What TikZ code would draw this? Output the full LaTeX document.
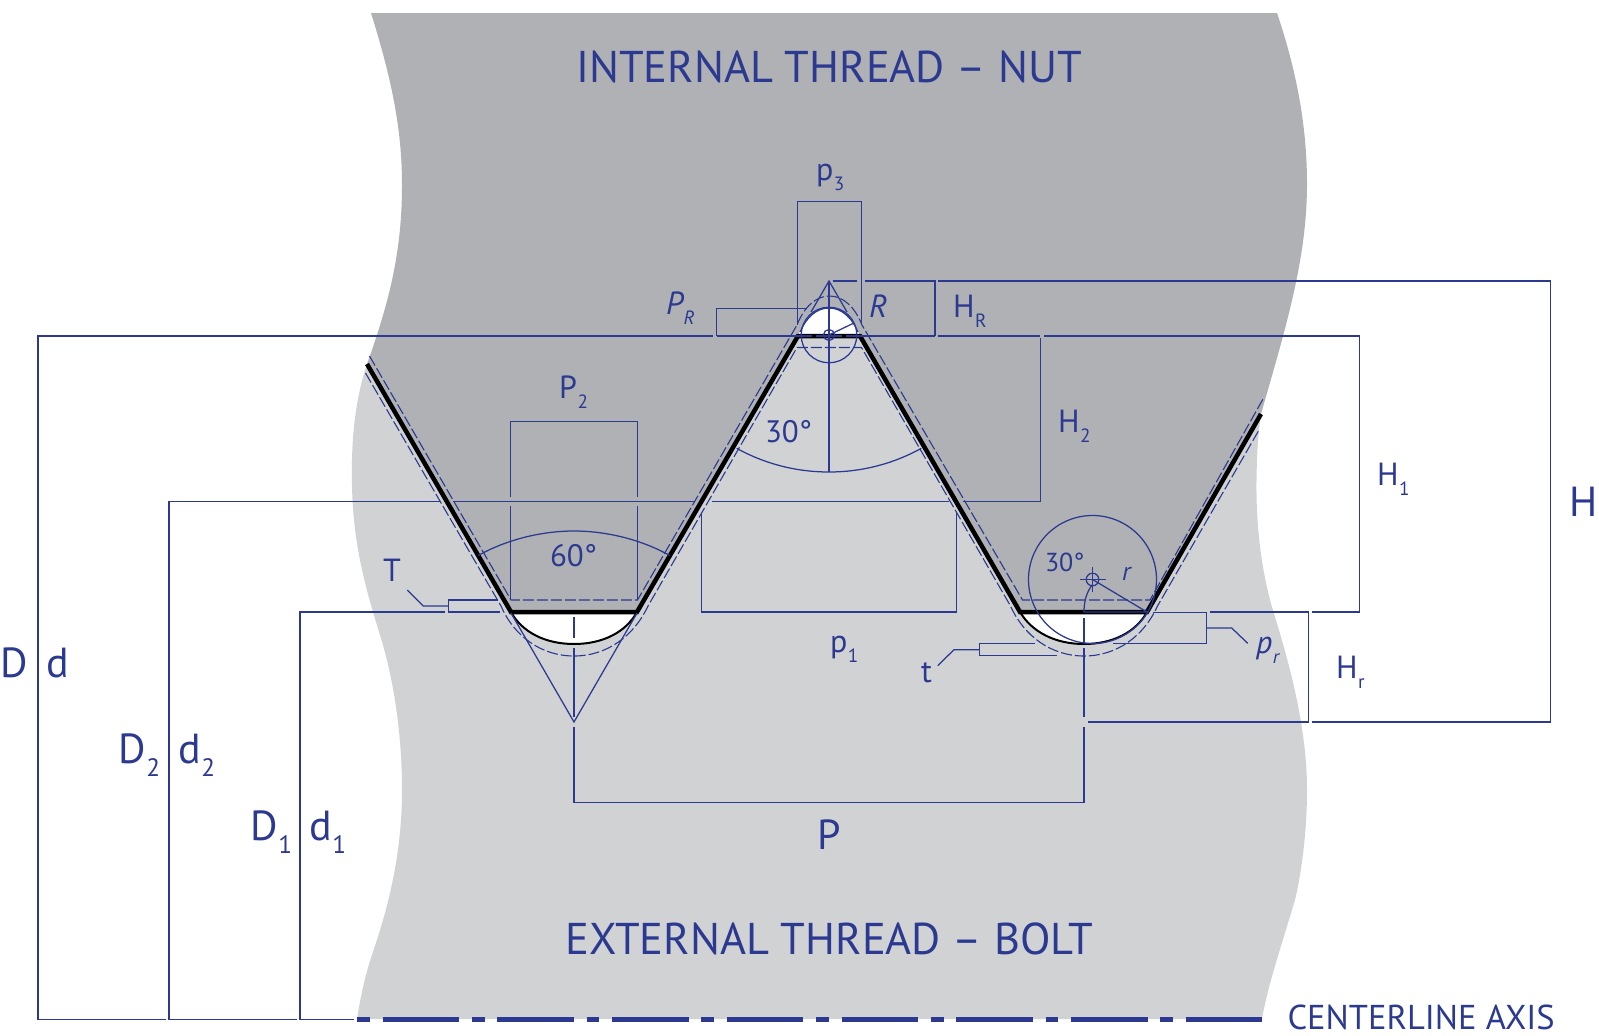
\documentclass[tikz,border=0pt]{standalone}
\usepackage{graphicx}
\usepackage{fontspec}
\setmainfont{PT Sans}
\usepackage{tikz}

\definecolor{dimblue}{RGB}{43,57,144}
\definecolor{nutgray}{RGB}{176,177,181}
\definecolor{boltgray}{RGB}{209,210,212}

\newcommand{\lowsub}[1]{\kern.02em\raisebox{-.33em}{\scalebox{.6}{#1}}}

\tikzset{
	dimline/.style={draw=dimblue, line width=1.25pt},
	dashline/.style={draw=dimblue, line width=1.1pt, dash pattern=on 11pt off 3pt},
	label/.style={text=dimblue, anchor=base west, inner sep=0pt, outer sep=0pt},
	titlelabel/.style={label, font=\fontsize{44.5}{46}\selectfont},
	largelabel/.style={label, font=\fontsize{42}{42}\selectfont},
	midlabel/.style={label, font=\fontsize{32}{32}\selectfont},
	anglelabel/.style={label, font=\fontsize{31}{31}\selectfont},
}

\begin{document}
\begin{tikzpicture}[x=1pt, y=-1pt]
	\useasboundingbox (0,0) rectangle (1599,1036);

	% Bolt body
	\fill[boltgray] (367,364) .. controls (355,400) and (351,440) .. (352,485)
		.. controls (353,545) and (366,590) .. (380,635)
		.. controls (394,680) and (402,735) .. (402,790)
		.. controls (402,870) and (380,930) .. (372,955)
		.. controls (365,975) and (360,1000) .. (357,1019)
		-- (1262,1019)
		.. controls (1268,985) and (1280,950) .. (1295,900)
		.. controls (1302,870) and (1307,830) .. (1307,790)
		.. controls (1307,720) and (1285,650) .. (1272,607)
		.. controls (1260,565) and (1256,520) .. (1256.5,480)
		.. controls (1257,450) and (1258,435) .. (1261,414)
		-- (1147,612) .. controls (1136,632) and (1113,644) .. (1084,644)
		.. controls (1055,644) and (1032,632) .. (1020,612)
		-- (860,336) -- (798,336) -- (637,612)
		.. controls (626,632) and (603,644) .. (574,644)
		.. controls (545,644) and (522,632) .. (511,612) -- cycle;

	% Nut body
	\fill[nutgray] (371,13) .. controls (392,80) and (402,130) .. (402,185)
		.. controls (402,250) and (390,300) .. (367,364)
		-- (511,612) -- (637,612) -- (798,336)
		.. controls (804,318) and (816,308) .. (829,308)
		.. controls (842,308) and (854,318) .. (860,336)
		-- (1020,612) -- (1147,612) -- (1261,414)
		.. controls (1285,330) and (1307,260) .. (1307,184)
		.. controls (1307,130) and (1298,75) .. (1277,13) -- cycle;

	% Thread profile
	\draw[black, line width=4.5pt, miter limit=4] (367,364) -- (511,612) -- (637,612) -- (798,336) -- (860,336) -- (1020,612) -- (1147,612) -- (1261,414);
	\draw[black, line width=2pt] (511,612) .. controls (522,632) and (545,644) .. (574,644) .. controls (603,644) and (626,632) .. (637,612);
	\draw[black, line width=2pt] (1020,612) .. controls (1032,632) and (1055,644) .. (1084,644) .. controls (1113,644) and (1136,632) .. (1147,612);
	\draw[dimline] (800,332) .. controls (806,318) and (816,308) .. (829,308) .. controls (842,308) and (852,318) .. (858,332);

	% Dashed limits of nut and bolt
	\draw[dashline] (369.5,356) -- (511,600) -- (637.5,600) -- (797,325) .. controls (804,307) and (816,296) .. (829.5,296) .. controls (843,296) and (855,307) .. (862,325) -- (1022.5,600) -- (1150,600) -- (1263,399);
	\draw[dashline] (365.5,373) -- (501,606) .. controls (514,636) and (541,656) .. (574,656) .. controls (607,656) and (634,636) .. (648,606) -- (797,347.5) -- (861.5,347.5) -- (1010.5,606) .. controls (1024,636) and (1051,656) .. (1084,656) .. controls (1117,656) and (1144,636) .. (1157.5,606) -- (1259,430);

	% Sharp V and centerlines
	\draw[dimline] (511,613) -- (574,722) -- (637,613);
	\draw[dimline] (574,617) -- (574,638);
	\draw[dimline] (574,648) -- (574,717);
	\draw[dimline] (574,727) -- (574,802.5) -- (1084,802.5) -- (1084,727);
	\draw[dimline] (1084,618) -- (1084,643);
	\draw[dimline] (1084,648) -- (1084,717);
	\draw[dimline] (811,312) -- (829,281) -- (847,312);
	\draw[dimline] (829,281) -- (829,472);

	% Angle arcs
	\draw[dimline] (736.7,448.3) .. controls (765,464) and (796.6,472) .. (829,472) .. controls (861.4,472) and (893,464) .. (921.3,448.3);
	\draw[dimline] (478.3,555.5) .. controls (506.5,539.6) and (541.6,531) .. (574,531) .. controls (606.4,531) and (641.5,539.6) .. (669.7,555.5);

	% Radius at the crest
	\draw[dimline] (829,335) circle [radius=27.8pt];
	\draw[dimline] (829,335) circle [radius=5.5pt];
	\draw[dimline] (816,336) -- (842,336);
	\draw[dimline] (829,335) -- (853.3,323.3);

	% Radius at the root
	\draw[dimline] (1092.5,579.5) circle [radius=64pt];
	\draw[dimline] (1092.5,579.5) circle [radius=6.3pt];
	\draw[dimline] (1080,579.5) -- (1105.7,579.5);
	\draw[dimline] (1092.5,567.3) -- (1092.5,592.3);
	\draw[dimline] (1092.5,579.5) -- (1147,612) -- (1084,612) .. controls (1084,600) and (1087,592) .. (1092,585);

	% D and d
	\draw[dimline] (165.5,1019.3) -- (38,1019.3) -- (38,336) -- (712.7,336);
	\draw[dimline] (716.7,336) -- (812,336);
	\draw[dimline] (846,336) -- (935,336);
	\draw[dimline] (938.3,336) -- (1040,336);
	\draw[dimline] (1044,336) -- (1359.3,336) -- (1359.3,612) -- (1312.3,612);

	% D2 and d2
	\draw[dimline] (296.5,1019.3) -- (169,1019.3) -- (169,501.7) -- (440,501.7);
	\draw[dimline] (453,501.7) -- (695,501.7);
	\draw[dimline] (712,501.7) -- (949,501.7);
	\draw[dimline] (963,501.7) -- (1040.3,501.7) -- (1040.3,338);

	% D1 and d1
	\draw[dimline] (353.5,1019.3) -- (300,1019.3) -- (300,612) -- (445,612);

	% T
	\draw[dimline] (498,600) -- (448.3,600) -- (448.3,612) -- (500,612);
	\draw[dimline] (448.3,606) -- (423.3,606) -- (407.3,590);

	% P1
	\draw[dimline] (701.7,513) -- (701.7,612) -- (956.7,612) -- (956.7,513);

	% P2
	\draw[dimline] (510.7,497) -- (510.7,421.3) -- (637.7,421.3) -- (637.7,497);
	\draw[dimline] (510.7,506) -- (510.7,600);
	\draw[dimline] (637.7,506) -- (637.7,600);

	% P3
	\draw[dimline] (797.3,325) -- (797.3,201.3) -- (861.3,201.3) -- (861.3,323);

	% PR
	\draw[dimline] (806,308.7) -- (716.7,308.7) -- (716.7,336);

	% HR, Hr and H
	\draw[dimline] (832.7,281) -- (857.3,281);
	\draw[dimline] (865,281) -- (935,281) -- (935,336);
	\draw[dimline] (938.3,281) -- (1550.7,281) -- (1550.7,722) -- (1312,722);
	\draw[dimline] (1210,612) -- (1308.3,612) -- (1308.3,722) -- (1088.3,722);

	% pr and t
	\draw[dimline] (1153,612.3) -- (1206.7,612.3) -- (1206.7,643.7) -- (1113.3,643.7);
	\draw[dimline] (1206.7,628) -- (1231.7,628) -- (1247.7,643.3);
	\draw[dimline] (1035,643.3) -- (979.3,643.3) -- (979.3,655.7) -- (1057.3,655.7);
	\draw[dimline] (979.3,649.7) -- (954,649.7) -- (937.7,665.7);

	% Centerline axis
	\draw[draw=dimblue, line width=4.7pt, dash pattern=on 12.7pt off 12.7pt on 76.6pt off 12.7pt] (357.3,1019.5) -- (1262.3,1019.5);

	% Titles
	\node (nuttitle) [titlelabel, anchor=base] at (829,82) {INTERNAL THREAD – NUT};
	\node (bolttitle) [titlelabel, anchor=base] at (829,954) {EXTERNAL THREAD – BOLT};
	\node (axistitle) [label, font=\fontsize{34.5}{34.5}\selectfont] at (1287.5,1029) {CENTERLINE AXIS};

	% Large labels
	\node (labelD) [largelabel] at (1,677) {D};
	\node (labeld) [largelabel] at (46,677) {d};
	\node (labelDtwo) [largelabel] at (118,763) {D\lowsub{2}};
	\node (labeldtwo) [largelabel] at (178,763) {d\lowsub{2}};
	\node (labelDone) [largelabel] at (250,840) {D\lowsub{1}};
	\node (labeldone) [largelabel] at (309,840) {d\lowsub{1}};
	\node (labelP) [largelabel, anchor=base] at (829,849) {P};
	\node (labelH) [largelabel] at (1569,516) {H};

	% Small labels
	\node (labelptwo) [midlabel] at (559,398) {P\lowsub{2}};
	\node (labelpthree) [midlabel] at (816,180) {p\lowsub{3}};
	\node (labelpone) [midlabel] at (830,652) {p\lowsub{1}};
	\node (labelpR) [midlabel, font=\fontsize{32}{32}\selectfont\itshape] at (666,314) {P\lowsub{R}};
	\node (labelR) [midlabel, font=\fontsize{32}{32}\selectfont\itshape] at (869,317) {R};
	\node (labelHR) [midlabel] at (953,317) {H\lowsub{R}};
	\node (labelHtwo) [midlabel] at (1058,432) {H\lowsub{2}};
	\node (labelHone) [midlabel] at (1377,485) {H\lowsub{1}};
	\node (labelHr) [midlabel] at (1336,678) {H\lowsub{r}};
	\node (labelpr) [midlabel, font=\fontsize{32}{32}\selectfont\itshape] at (1256,653) {p\lowsub{r}};
	\node (labelT) [midlabel] at (383,581) {T};
	\node (labelt) [midlabel] at (921,682) {t};
	\node (labelr) [midlabel, font=\fontsize{26}{26}\selectfont\itshape] at (1122,580) {r};

	% Angle labels
	\node (labelsixty) [anglelabel] at (550,566) {60°};
	\node (labelthirty) [anglelabel] at (765,442) {30°};
	\node (labelroot) [anglelabel, font=\fontsize{26}{26}\selectfont] at (1045,571) {30°};
\end{tikzpicture}
\end{document}
